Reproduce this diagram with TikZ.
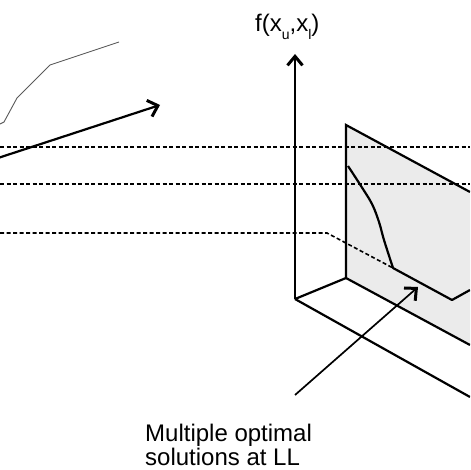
\documentclass[tikz,border=0pt]{standalone}
\usepackage{fontspec}
\setmainfont{Liberation Sans}
\usetikzlibrary{arrows.meta}
\definecolor{planegray}{HTML}{EBEBEB}
\tikzset{
  axisline/.style={line width=2.2pt, line cap=butt},
  guide/.style={line width=1.9pt, dash pattern=on 4pt off 2.5pt},
  chev/.style={-{Straight Barb[length=9pt,width=17pt,line width=3pt]}},
  lbl/.style={font=\fontsize{24}{24}\selectfont, inner sep=0pt}
}
\begin{document}
\begin{tikzpicture}[x=1pt,y=-1pt]
\useasboundingbox (0,0) rectangle (470,470);
\clip (0,0) rectangle (470,470);
% plane
\coordinate (p1) at (346,125);
\coordinate (p2) at (470,192);
\coordinate (p3) at (470,345);
\coordinate (p4) at (346,278);
\fill[planegray] (p1) -- (p2) -- (p3) -- (p4) -- cycle;
\draw[axisline] (p4) -- (p1) -- (p2);
\draw[axisline] (p4) -- (p3);
% axes
\coordinate (o) at (295,299);
\coordinate (ytop) at (295,54);
\coordinate (xend) at (470,397);
\draw[axisline] (o) -- (xend);
\draw[axisline] (o) -- (p4);
\draw[axisline,-{Straight Barb[length=9pt,width=15pt,line width=3pt]}] (o) -- (ytop);
% dashed guides
\coordinate (d1a) at (0,147); \coordinate (d1b) at (470,147);
\coordinate (d2a) at (0,184); \coordinate (d2b) at (470,184);
\coordinate (d3a) at (0,233); \coordinate (d3b) at (327,233);
\coordinate (c5) at (393,268);
\draw[guide] (d1a) -- (d1b);
\draw[guide] (d2a) -- (d2b);
\draw[guide, line width=1.6pt] (d3a) -- (d3b) -- (c5);
% solution curve
\coordinate (c1) at (348,166);
\coordinate (c6) at (452,300);
\coordinate (c7) at (470,290);
\draw[axisline, line join=round] plot[smooth, tension=0.6] coordinates {(348,166) (361,186) (372,204) (379,222) (384,240) (393,268)} -- (c6) -- (c7);
% gray line top-left
\draw[gray!70!black, line width=0.9pt] (0,124) -- (4,122) -- (17,98) -- (50,65) -- (119,42);
% black arrow top-left
\coordinate (a1) at (-2,158);
\coordinate (a2) at (160,105);
\draw[axisline, chev] (a1) -- (a2);
% pointer arrow
\coordinate (m1) at (295,395);
\coordinate (m2) at (418,287);
\draw[line width=1.7pt, chev] (m1) -- (m2);
% labels
\node[lbl, anchor=base west] (flabel) at (255,32) {f(x\raisebox{-0.3em}{\fontsize{14}{14}\selectfont u},x\raisebox{-0.3em}{\fontsize{14}{14}\selectfont l})};
\node[lbl, anchor=base west, align=left, font=\fontsize{24}{23.5}\selectfont] (mlabel) at (145,465) {Multiple optimal\\solutions at LL};
\end{tikzpicture}
\end{document}
